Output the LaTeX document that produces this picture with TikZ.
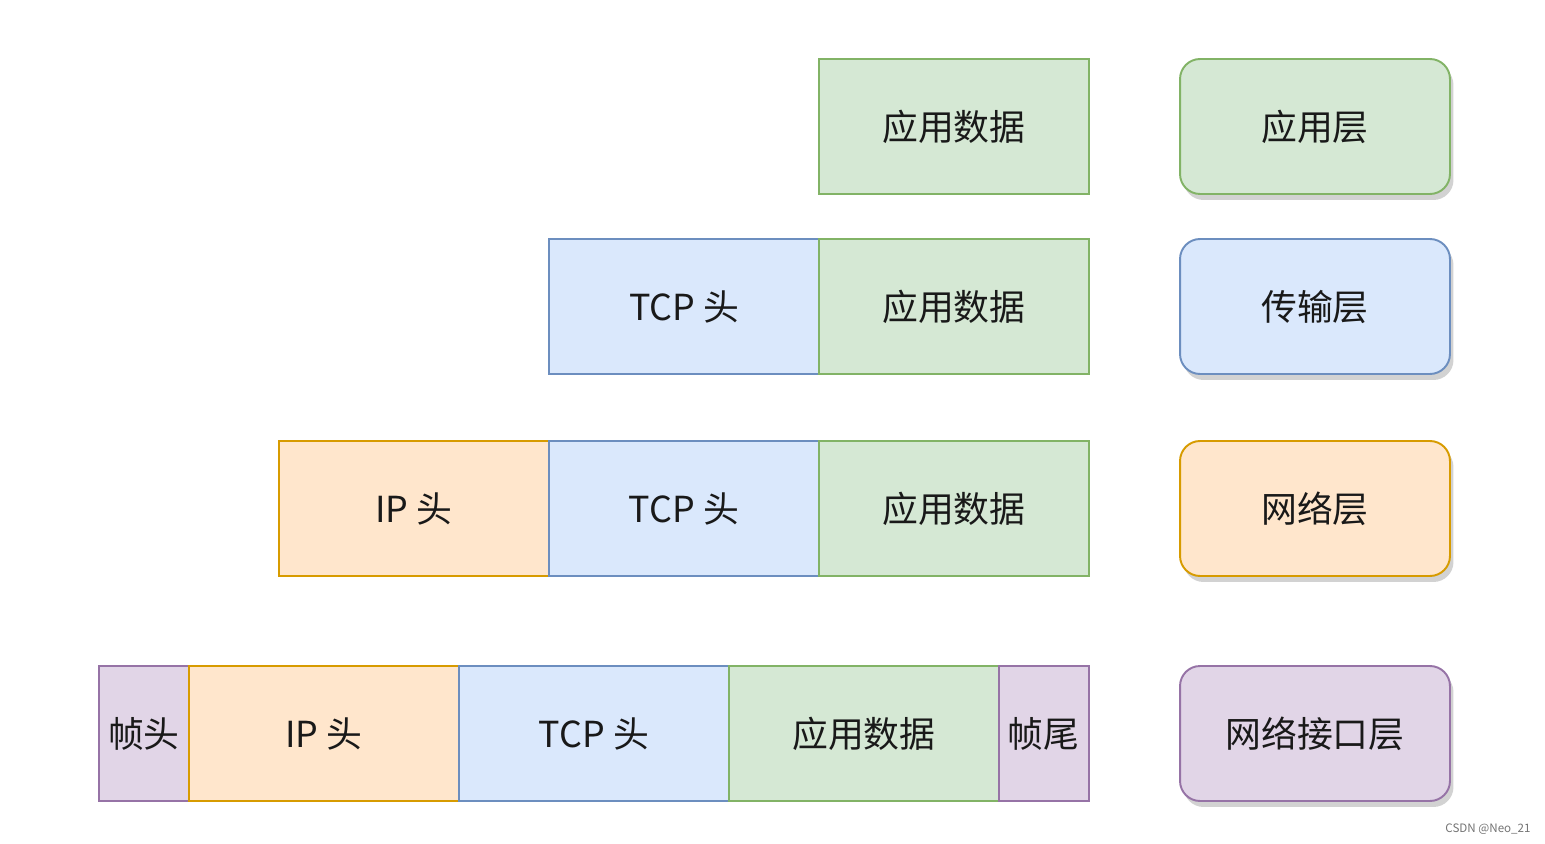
\documentclass[tikz,border=0pt]{standalone}
\usepackage{fontspec}
\newfontfamily\cjk{Noto Sans CJK SC}
\usetikzlibrary{positioning,shadows}
\definecolor{appfill}{HTML}{D5E8D4}\definecolor{appline}{HTML}{82B366}
\definecolor{tcpfill}{HTML}{DAE8FC}\definecolor{tcpline}{HTML}{6C8EBF}
\definecolor{ipfill}{HTML}{FFE6CC}\definecolor{ipline}{HTML}{D79B00}
\definecolor{frmfill}{HTML}{E1D5E7}\definecolor{frmline}{HTML}{9673A6}
\tikzset{
  seg/.style={draw,line width=1.1pt,outer sep=0,inner sep=0,minimum height=2.7cm,
    minimum width=5.4cm,text=black!90,font=\cjk\fontsize{20.4}{24}\selectfont},
  appseg/.style={seg,fill=appfill,draw=appline},
  tcpseg/.style={seg,fill=tcpfill,draw=tcpline},
  ipseg/.style={seg,fill=ipfill,draw=ipline},
  frmseg/.style={seg,fill=frmfill,draw=frmline,minimum width=1.8cm},
  layer/.style={seg,rounded corners=0.4cm,
    drop shadow={shadow xshift=0.07cm,shadow yshift=-0.12cm,fill=black!35}},
}
\begin{document}
\begin{tikzpicture}[x=0.02cm,y=-0.02cm]
\useasboundingbox (0,0) rectangle (1545,844);
% ---------- row 1: application ----------
\node[appseg,anchor=west] (d1) at (819,126.5) {应用数据};
% ---------- row 2: transport ----------
\node[tcpseg,anchor=west] (t2) at (549,306.5) {TCP 头};
\node[appseg,right=0pt of t2] (d2) {应用数据};
% ---------- row 3: network ----------
\node[ipseg,anchor=west] (i3) at (279,508.5) {IP 头};
\node[tcpseg,right=0pt of i3] (t3) {TCP 头};
\node[appseg,right=0pt of t3] (d3) {应用数据};
% ---------- row 4: link ----------
\node[frmseg,anchor=west] (fh) at (99,733.5) {帧头};
\node[ipseg,right=0pt of fh] (i4) {IP 头};
\node[tcpseg,right=0pt of i4] (t4) {TCP 头};
\node[appseg,right=0pt of t4] (d4) {应用数据};
\node[frmseg,right=0pt of d4] (ft) {帧尾};
% ---------- layers ----------
\node[layer,fill=appfill,draw=appline] (lapp) at (1315,126.5) {应用层};
\node[layer,fill=tcpfill,draw=tcpline] (ltcp) at (1315,306.5) {传输层};
\node[layer,fill=ipfill,draw=ipline] (lip) at (1315,508.5) {网络层};
\node[layer,fill=frmfill,draw=frmline] (lfrm) at (1315,733.5) {网络接口层};
% watermark
\node[text=black!55,font=\cjk\fontsize{6.6}{7}\selectfont] (mark) at (1488,829) {CSDN @Neo\_21};
\end{tikzpicture}
\end{document}
